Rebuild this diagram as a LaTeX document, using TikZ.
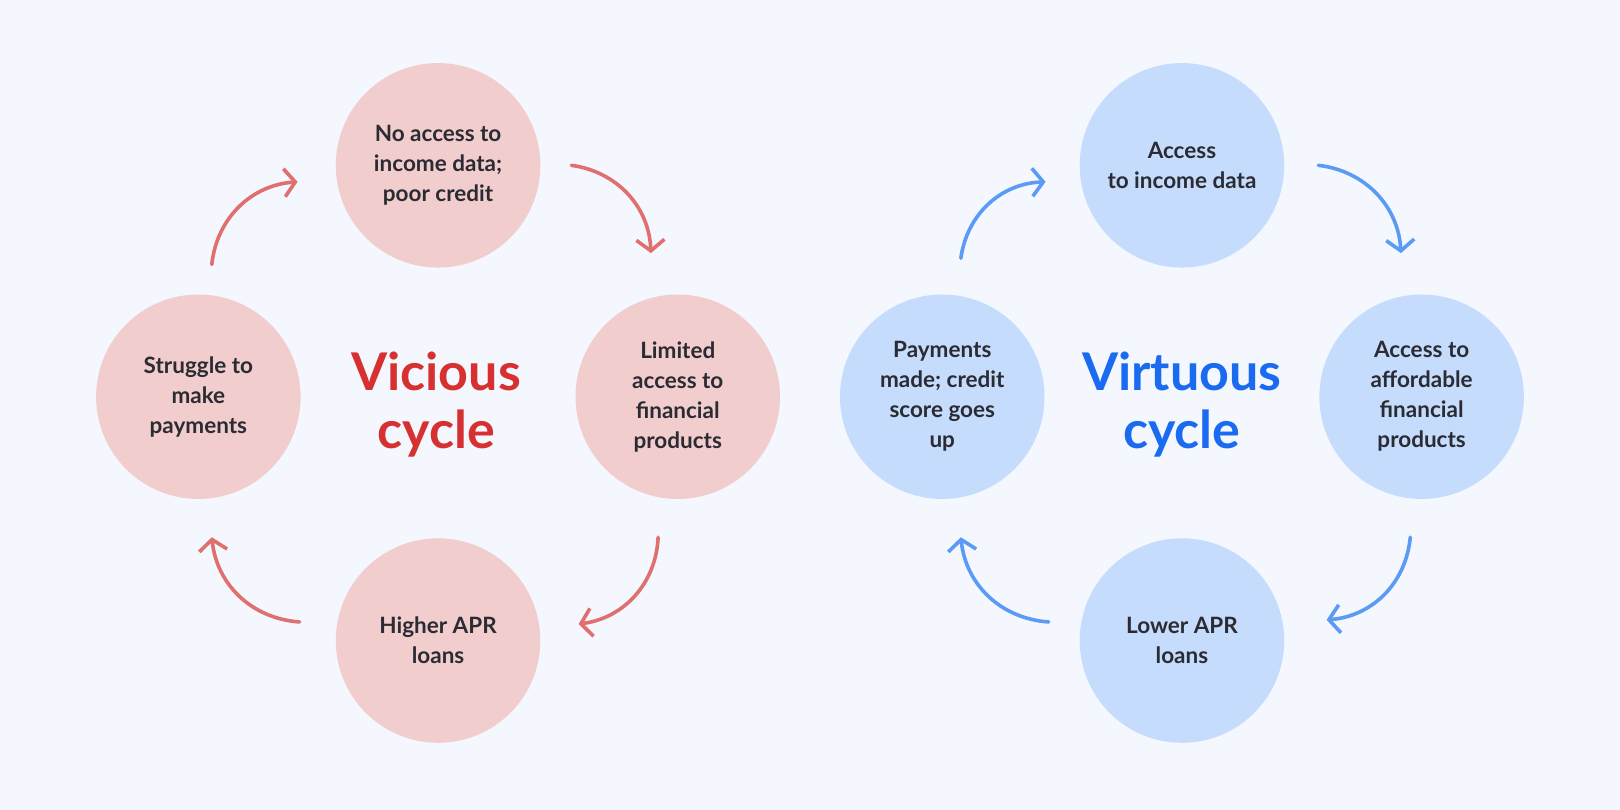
\documentclass[tikz,border=0pt]{standalone}
\usepackage{fontspec}
\setmainfont{Lato}
\usetikzlibrary{arrows.meta}
\definecolor{bg}{HTML}{F4F7FD}
\definecolor{pinkf}{HTML}{F2CDCE}
\definecolor{redarr}{HTML}{E07070}
\definecolor{redt}{HTML}{D63031}
\definecolor{bluef}{HTML}{C5DCFD}
\definecolor{bluearr}{HTML}{5B9BF5}
\definecolor{bluet}{HTML}{1A6BF0}
\definecolor{txt}{HTML}{2B2B33}
\begin{document}
\begin{tikzpicture}[x=1.0332pt,y=-1.0332pt,
  circ/.style={circle,minimum size=204.5pt,inner sep=0pt,align=center,text=txt,font=\fontsize{22.5}{30}\selectfont\bfseries},
  pc/.style={circ,fill=pinkf},
  bc/.style={circ,fill=bluef},
  title/.style={align=center,font=\fontsize{52}{58}\selectfont\bfseries},
  arr/.style={line width=3.6pt,line cap=round,-{Straight Barb[length=11pt,width=28pt,line width=3.6pt]}},
  ra/.style={arr,draw=redarr},
  ba/.style={arr,draw=bluearr}]
\fill[bg] (0,0) rectangle (1568,784);
\useasboundingbox (0,0) rectangle (1568,784);
% vicious
\node[pc] (v1) at (424,160) {No access to\\income data;\\poor credit};
\node[pc] (v2) at (656,384) {Limited\\access to\\financial\\products};
\node[pc] (v3) at (424,620) {Higher APR\\loans};
\node[pc] (v4) at (192,384) {Struggle to\\make\\payments};
\node[title,text=redt] (vt) at (422,392) {Vicious\\cycle};
\coordinate (a1s) at (205,256); \coordinate (a1e) at (288,176);
\coordinate (a2s) at (553,160); \coordinate (a2e) at (630,245);
\coordinate (a3s) at (637,520); \coordinate (a3e) at (560,604);
\coordinate (a4s) at (290,602); \coordinate (a4e) at (205,520);
\draw[ra] (a1s) to[bend left=40] (a1e);
\draw[ra] (a2s) to[bend left=40] (a2e);
\draw[ra] (a3s) to[bend left=40] (a3e);
\draw[ra] (a4s) to[bend left=40] (a4e);
% virtuous
\node[bc] (w1) at (1144,160) {Access\\to income data};
\node[bc] (w2) at (1376,384) {Access to\\affordable\\financial\\products};
\node[bc] (w3) at (1144,620) {Lower APR\\loans};
\node[bc] (w4) at (912,384) {Payments\\made; credit\\score goes\\up};
\node[title,text=bluet] (wt) at (1144,392) {Virtuous\\cycle};
\coordinate (b1s) at (930,250); \coordinate (b1e) at (1012,176);
\coordinate (b2s) at (1276,160); \coordinate (b2e) at (1356,245);
\coordinate (b3s) at (1365,520); \coordinate (b3e) at (1284,600);
\coordinate (b4s) at (1015,602); \coordinate (b4e) at (930,520);
\draw[ba] (b1s) to[bend left=40] (b1e);
\draw[ba] (b2s) to[bend left=40] (b2e);
\draw[ba] (b3s) to[bend left=40] (b3e);
\draw[ba] (b4s) to[bend left=40] (b4e);
\end{tikzpicture}
\end{document}
